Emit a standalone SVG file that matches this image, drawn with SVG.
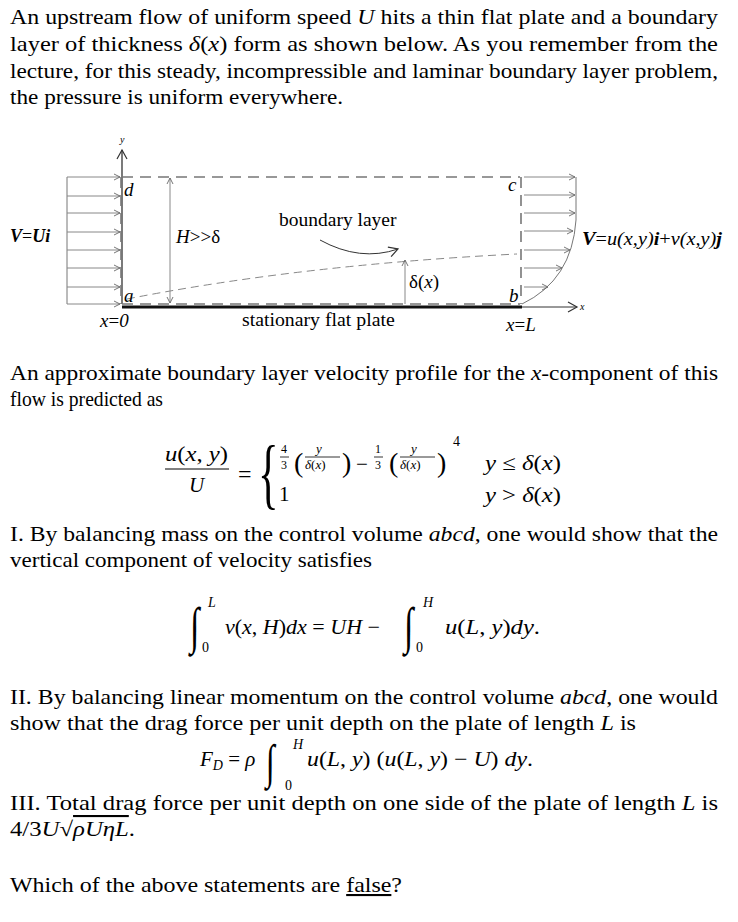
<svg xmlns="http://www.w3.org/2000/svg" width="738" height="922" viewBox="0 0 738 922">
<style>
.t{font-family:"Liberation Serif",serif;font-size:21px;fill:#000}
.f{font-family:"Liberation Serif",serif;fill:#000}
.g{stroke:#777;fill:none}
.d{stroke:#777;stroke-width:1.6;fill:none;stroke-dasharray:11 7}
.a{stroke:#888;stroke-width:1;fill:none;marker-end:url(#ah)}
</style>
<defs>
<marker id="ah" markerWidth="8" markerHeight="8" refX="7" refY="4" orient="auto" markerUnits="userSpaceOnUse"><path d="M1,1 L7,4 L1,7" fill="none" stroke="#666" stroke-width="0.9"/></marker>
<marker id="ak" markerWidth="12" markerHeight="12" refX="10" refY="6" orient="auto" markerUnits="userSpaceOnUse"><path d="M1,1 L10,6 L1,11" fill="none" stroke="#333" stroke-width="1.2"/></marker>
</defs>
<rect width="738" height="922" fill="#fff"/>
<g id="intro" class="t">
<text x="10" y="24" textLength="708" lengthAdjust="spacingAndGlyphs">An upstream flow of uniform speed <tspan font-style="italic">U</tspan> hits a thin flat plate and a boundary</text>
<text x="10" y="51" textLength="708" lengthAdjust="spacingAndGlyphs">layer of thickness <tspan font-style="italic">δ</tspan>(<tspan font-style="italic">x</tspan>) form as shown below.  As you remember from the</text>
<text x="10" y="78" textLength="708" lengthAdjust="spacingAndGlyphs">lecture, for this steady, incompressible and laminar boundary layer problem,</text>
<text x="10" y="104" textLength="333" lengthAdjust="spacingAndGlyphs">the pressure is uniform everywhere.</text>
</g>
<g id="figure">
<g id="inflow">
<line class="g" x1="67" y1="177" x2="67" y2="304"/>
<line class="a" x1="67" y1="177" x2="120" y2="177"/>
<line class="a" x1="67" y1="196" x2="120" y2="196"/>
<line class="a" x1="67" y1="213" x2="120" y2="213"/>
<line class="a" x1="67" y1="232" x2="120" y2="232"/>
<line class="a" x1="67" y1="250" x2="120" y2="250"/>
<line class="a" x1="67" y1="268" x2="120" y2="268"/>
<line class="a" x1="67" y1="287" x2="120" y2="287"/>
<line class="a" x1="67" y1="304" x2="120" y2="304"/>
<text class="f" x="10" y="242" font-size="18" font-style="italic" font-weight="bold">V<tspan font-weight="normal" font-style="normal">=</tspan>U<tspan>i</tspan></text>
</g>
<g id="axes">
<line x1="122" y1="304" x2="122" y2="150" stroke="#333" stroke-width="1.3" marker-end="url(#ak)"/>
<text class="f" x="120" y="143" font-size="10" font-style="italic">y</text>
<line x1="522" y1="307" x2="577" y2="307" stroke="#333" stroke-width="1" marker-end="url(#ak)"/>
<text class="f" x="580" y="310" font-size="10" font-style="italic">x</text>
<line x1="122" y1="307" x2="522" y2="307" stroke="#111" stroke-width="3"/>
</g>
<g id="cv">
<path class="d" d="M122,177 H520"/>
<path class="d" d="M121,177 V304"/>
<path class="d" d="M122,304 H520"/>
<path class="d" d="M521,177 V304"/>
<path d="M127,299 Q300,265 517,254" stroke="#888" stroke-width="1" fill="none" stroke-dasharray="8 5"/>
<text class="f" x="124" y="196" font-size="19" font-style="italic">d</text>
<text class="f" x="124" y="302" font-size="19" font-style="italic">a</text>
<text class="f" x="509" y="302" font-size="19" font-style="italic">b</text>
<text class="f" x="508" y="191" font-size="19" font-style="italic">c</text>
</g>
<g id="labels">
<line class="a" x1="170" y1="240" x2="170" y2="178"/>
<line class="a" x1="170" y1="240" x2="170" y2="303"/>
<text class="f" x="176" y="243" font-size="19"><tspan font-style="italic">H</tspan>&gt;&gt;δ</text>
<text class="f" x="279" y="226" font-size="19.5">boundary layer</text>
<path d="M320,240 Q360,262 398,249" stroke="#333" stroke-width="1" fill="none" marker-end="url(#ak)"/>
<line class="a" x1="405" y1="304" x2="405" y2="260"/>
<text class="f" x="409" y="288" font-size="19">δ(<tspan font-style="italic">x</tspan>)</text>
<text class="f" x="100" y="327" font-size="19" font-style="italic">x<tspan font-style="normal">=</tspan>0</text>
<text class="f" x="242" y="326" font-size="19.8">stationary flat plate</text>
<text class="f" x="506" y="331" font-size="19" font-style="italic">x<tspan font-style="normal">=</tspan>L</text>
</g>
<g id="outflow">
<path class="g" d="M522,304 Q572,280 576,220 V177"/>
<line class="a" x1="524" y1="177" x2="575" y2="177"/>
<line class="a" x1="524" y1="195" x2="575" y2="195"/>
<line class="a" x1="524" y1="213" x2="575" y2="213"/>
<line class="a" x1="524" y1="231" x2="573" y2="231"/>
<line class="a" x1="524" y1="250" x2="570" y2="250"/>
<line class="a" x1="524" y1="268" x2="562" y2="268"/>
<line class="a" x1="524" y1="287" x2="548" y2="287"/>
<text class="f" x="582" y="245" font-size="18" font-style="italic" textLength="140" lengthAdjust="spacingAndGlyphs"><tspan font-weight="bold">V</tspan><tspan font-style="normal">=</tspan>u(x,y)<tspan font-weight="bold">i</tspan><tspan font-style="normal">+</tspan>v(x,y)<tspan font-weight="bold">j</tspan></text>
</g>
</g>
<g id="text2" class="t">
<text x="10" y="380" textLength="708" lengthAdjust="spacingAndGlyphs">An approximate boundary layer velocity profile for the <tspan font-style="italic">x</tspan>-component of this</text>
<text x="10" y="406" textLength="153" lengthAdjust="spacingAndGlyphs">flow is predicted as</text>
</g>
<g id="eq1" class="f">
<text x="165" y="461" font-size="21" font-style="italic" textLength="63" lengthAdjust="spacingAndGlyphs">u<tspan font-style="normal">(</tspan>x<tspan font-style="normal">, </tspan>y<tspan font-style="normal">)</tspan></text>
<line x1="165" y1="469" x2="229" y2="469" stroke="#000" stroke-width="1"/>
<text x="189" y="492" font-size="21" font-style="italic">U</text>
<text x="238" y="482" font-size="24">=</text>
<text x="258" y="500" font-size="78" transform="translate(258 500) scale(0.55 1) translate(-258 -500)">{</text>
<text x="281" y="453" font-size="12">4</text><line x1="280" y1="457" x2="289" y2="457" stroke="#000" stroke-width="0.8"/><text x="281" y="469" font-size="12">3</text>
<text x="294" y="472" font-size="28">(</text>
<text x="316" y="453" font-size="13" font-style="italic">y</text><line x1="305" y1="457" x2="340" y2="457" stroke="#000" stroke-width="0.8"/><text x="305" y="469" font-size="13" font-style="italic">δ<tspan font-style="normal">(</tspan>x<tspan font-style="normal">)</tspan></text>
<text x="342" y="472" font-size="28">)</text>
<text x="356" y="471" font-size="21">−</text>
<text x="375" y="453" font-size="12">1</text><line x1="374" y1="457" x2="383" y2="457" stroke="#000" stroke-width="0.8"/><text x="375" y="469" font-size="12">3</text>
<text x="389" y="472" font-size="28">(</text>
<text x="411" y="453" font-size="13" font-style="italic">y</text><line x1="400" y1="457" x2="435" y2="457" stroke="#000" stroke-width="0.8"/><text x="400" y="469" font-size="13" font-style="italic">δ<tspan font-style="normal">(</tspan>x<tspan font-style="normal">)</tspan></text>
<text x="437" y="472" font-size="28">)</text>
<text x="453" y="446" font-size="14">4</text>
<text x="485" y="470" font-size="21" font-style="italic" textLength="76" lengthAdjust="spacingAndGlyphs">y <tspan font-style="normal">≤</tspan> δ<tspan font-style="normal">(</tspan>x<tspan font-style="normal">)</tspan></text>
<text x="279" y="501" font-size="21">1</text>
<text x="485" y="502" font-size="21" font-style="italic" textLength="76" lengthAdjust="spacingAndGlyphs">y <tspan font-style="normal">&gt;</tspan> δ<tspan font-style="normal">(</tspan>x<tspan font-style="normal">)</tspan></text>
</g>
<g id="text3" class="t">
<text x="10" y="541" textLength="708" lengthAdjust="spacingAndGlyphs">I. By balancing mass on the control volume <tspan font-style="italic">abcd</tspan>, one would show that the</text>
<text x="10" y="567" textLength="362" lengthAdjust="spacingAndGlyphs">vertical component of velocity satisfies</text>
</g>
<g id="eq2" class="f" font-size="21">
<text x="190" y="643" font-size="34" transform="translate(190 643) scale(1 1.5) translate(-190 -643)">∫</text>
<text x="208" y="607" font-size="14" font-style="italic">L</text>
<text x="202" y="652" font-size="14">0</text>
<text x="225" y="634" font-style="italic" textLength="155" lengthAdjust="spacingAndGlyphs">v<tspan font-style="normal">(</tspan>x<tspan font-style="normal">, </tspan>H<tspan font-style="normal">)</tspan>dx <tspan font-style="normal">=</tspan> UH <tspan font-style="normal">−</tspan></text>
<text x="404" y="643" font-size="34" transform="translate(404 643) scale(1 1.5) translate(-404 -643)">∫</text>
<text x="423" y="607" font-size="14" font-style="italic">H</text>
<text x="416" y="652" font-size="14">0</text>
<text x="445" y="634" font-style="italic" textLength="95" lengthAdjust="spacingAndGlyphs">u<tspan font-style="normal">(</tspan>L<tspan font-style="normal">, </tspan>y<tspan font-style="normal">)</tspan>dy<tspan font-style="normal">.</tspan></text>
</g>
<g id="text4" class="t">
<text x="10" y="704" textLength="708" lengthAdjust="spacingAndGlyphs">II. By balancing linear momentum on the control volume <tspan font-style="italic">abcd</tspan>, one would</text>
<text x="10" y="730" textLength="626" lengthAdjust="spacingAndGlyphs">show that the drag force per unit depth on the plate of length <tspan font-style="italic">L</tspan> is</text>
</g>
<g id="eq3" class="f" font-size="21">
<text x="200" y="766" font-style="italic">F<tspan font-size="14" dy="4">D</tspan><tspan dy="-4" font-style="normal"> = </tspan>ρ</text>
<text x="266" y="778" font-size="32" transform="translate(266 778) scale(1 1.5) translate(-266 -778)">∫</text>
<text x="293" y="749" font-size="14" font-style="italic">H</text>
<text x="285" y="790" font-size="14">0</text>
<text x="307" y="766" font-style="italic" textLength="226" lengthAdjust="spacingAndGlyphs">u<tspan font-style="normal">(</tspan>L<tspan font-style="normal">, </tspan>y<tspan font-style="normal">) (</tspan>u<tspan font-style="normal">(</tspan>L<tspan font-style="normal">, </tspan>y<tspan font-style="normal">) − </tspan>U<tspan font-style="normal">)</tspan> dy<tspan font-style="normal">.</tspan></text>
</g>
<g id="text5" class="t">
<text x="10" y="810" textLength="708" lengthAdjust="spacingAndGlyphs">III. Total drag force per unit depth on one side of the plate of length <tspan font-style="italic">L</tspan> is</text>
<text x="10" y="836" textLength="125" lengthAdjust="spacingAndGlyphs">4/3<tspan font-style="italic">U</tspan>√<tspan font-style="italic" text-decoration="overline">ρUηL</tspan>.</text>
<text x="10" y="892" textLength="392" lengthAdjust="spacingAndGlyphs">Which of the above statements are <tspan text-decoration="underline">false</tspan>?</text>
</g>
</svg>
